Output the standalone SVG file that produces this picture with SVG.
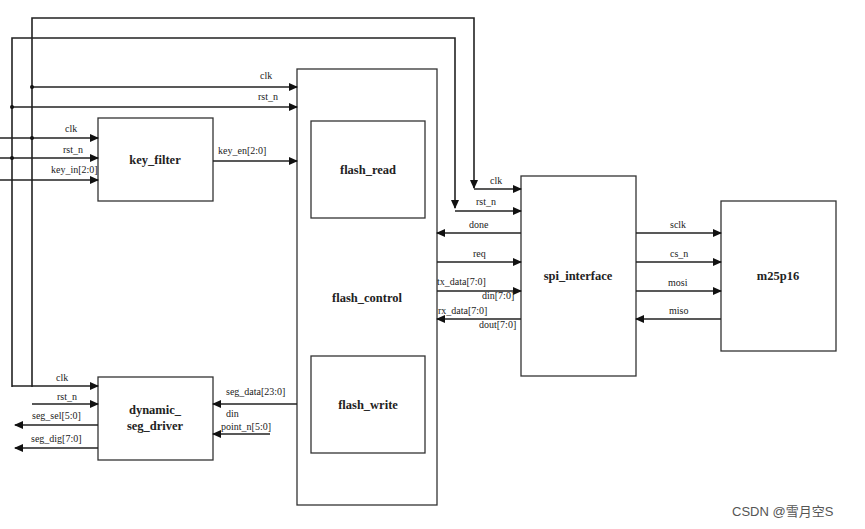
<svg xmlns="http://www.w3.org/2000/svg" width="865" height="529" viewBox="0 0 865 529">
<style>
.b{fill:#fff;stroke:#333;stroke-width:1.3}
.w{fill:none;stroke:#222;stroke-width:1.6}
.a{marker-end:url(#m)}
text{font-family:"Liberation Serif",serif;fill:#222}
.l{font-size:10px}
.n{font-size:12.5px;font-weight:bold;text-anchor:middle}
</style>
<defs><marker id="m" markerWidth="9" markerHeight="8" refX="8" refY="4" orient="auto" markerUnits="userSpaceOnUse"><path d="M0,0L9,4L0,8z" fill="#111"/></marker></defs>
<rect width="865" height="529" fill="#fff"/>
<g id="key_filter"><rect class="b" x="98" y="118" width="115" height="83"/><text class="n" x="155" y="164">key_filter</text></g>
<g id="flash_control"><rect class="b" x="297" y="69" width="140" height="436"/><text class="n" x="367" y="302">flash_control</text></g>
<g id="flash_read"><rect class="b" x="311" y="121" width="114" height="97"/><text class="n" x="368" y="174">flash_read</text></g>
<g id="flash_write"><rect class="b" x="311" y="356" width="114" height="97"/><text class="n" x="368" y="409">flash_write</text></g>
<g id="dynamic_seg_driver"><rect class="b" x="98" y="377" width="115" height="83"/><text class="n" x="155" y="414">dynamic_</text><text class="n" x="155" y="430">seg_driver</text></g>
<g id="spi_interface"><rect class="b" x="521" y="176" width="115" height="200"/><text class="n" x="578" y="280">spi_interface</text></g>
<g id="m25p16"><rect class="b" x="721" y="201" width="115" height="150"/><text class="n" x="778" y="280">m25p16</text></g>
<g id="connectors">
<path class="w a" d="M32,387V18H474V188"/>
<path class="w a" d="M12,387V38H455V208"/>
<path class="w a" d="M474,189H521"/><path class="w a" d="M455,211H521"/>
<path class="w a" d="M32,87H297"/><path class="w a" d="M12,107H297"/>
<path class="w a" d="M0,138H98"/><path class="w a" d="M0,158H98"/><path class="w a" d="M0,180H98"/>
<path class="w a" d="M213,161H297"/>
<path class="w a" d="M12,386H98"/><path class="w a" d="M32,404H98"/>
<path class="w a" d="M98,425H15"/><path class="w a" d="M98,448H15"/>
<path class="w a" d="M297,404H213"/><path class="w a" d="M270,434H213"/>
<path class="w a" d="M521,233H437"/><path class="w a" d="M437,262H521"/><path class="w a" d="M437,291H521"/><path class="w a" d="M521,319H437"/>
<path class="w a" d="M636,233H721"/><path class="w a" d="M636,262H721"/><path class="w a" d="M636,291H721"/><path class="w a" d="M721,319H636"/>
<g fill="#111"><circle cx="32" cy="87" r="2"/><circle cx="12" cy="107" r="2"/><circle cx="32" cy="138" r="2"/><circle cx="12" cy="158" r="2"/></g>
</g>
<g class="l">
<text x="260" y="79">clk</text><text x="258" y="100">rst_n</text>
<text x="65" y="132">clk</text><text x="63" y="153">rst_n</text><text x="51" y="173">key_in[2:0]</text>
<text x="218" y="154">key_en[2:0]</text>
<text x="56" y="381">clk</text><text x="57" y="400">rst_n</text><text x="32" y="419">seg_sel[5:0]</text><text x="31" y="442">seg_dig[7:0]</text>
<text x="226" y="395">seg_data[23:0]</text><text x="226" y="417">din</text><text x="221" y="430">point_n[5:0]</text>
<text x="490" y="184">clk</text><text x="476" y="205">rst_n</text>
<text x="469" y="228">done</text><text x="473" y="257">req</text>
<text x="437" y="285">tx_data[7:0]</text><text x="482" y="299">din[7:0]</text>
<text x="438" y="314">rx_data[7:0]</text><text x="479" y="328">dout[7:0]</text>
<text x="670" y="228">sclk</text><text x="670" y="257">cs_n</text><text x="668" y="286">mosi</text><text x="669" y="314">miso</text>
</g>
<text x="732" y="516" style="font-family:'Liberation Sans','Noto Sans CJK SC',sans-serif;font-size:13px;fill:#555">CSDN @雪月空S</text>
</svg>
